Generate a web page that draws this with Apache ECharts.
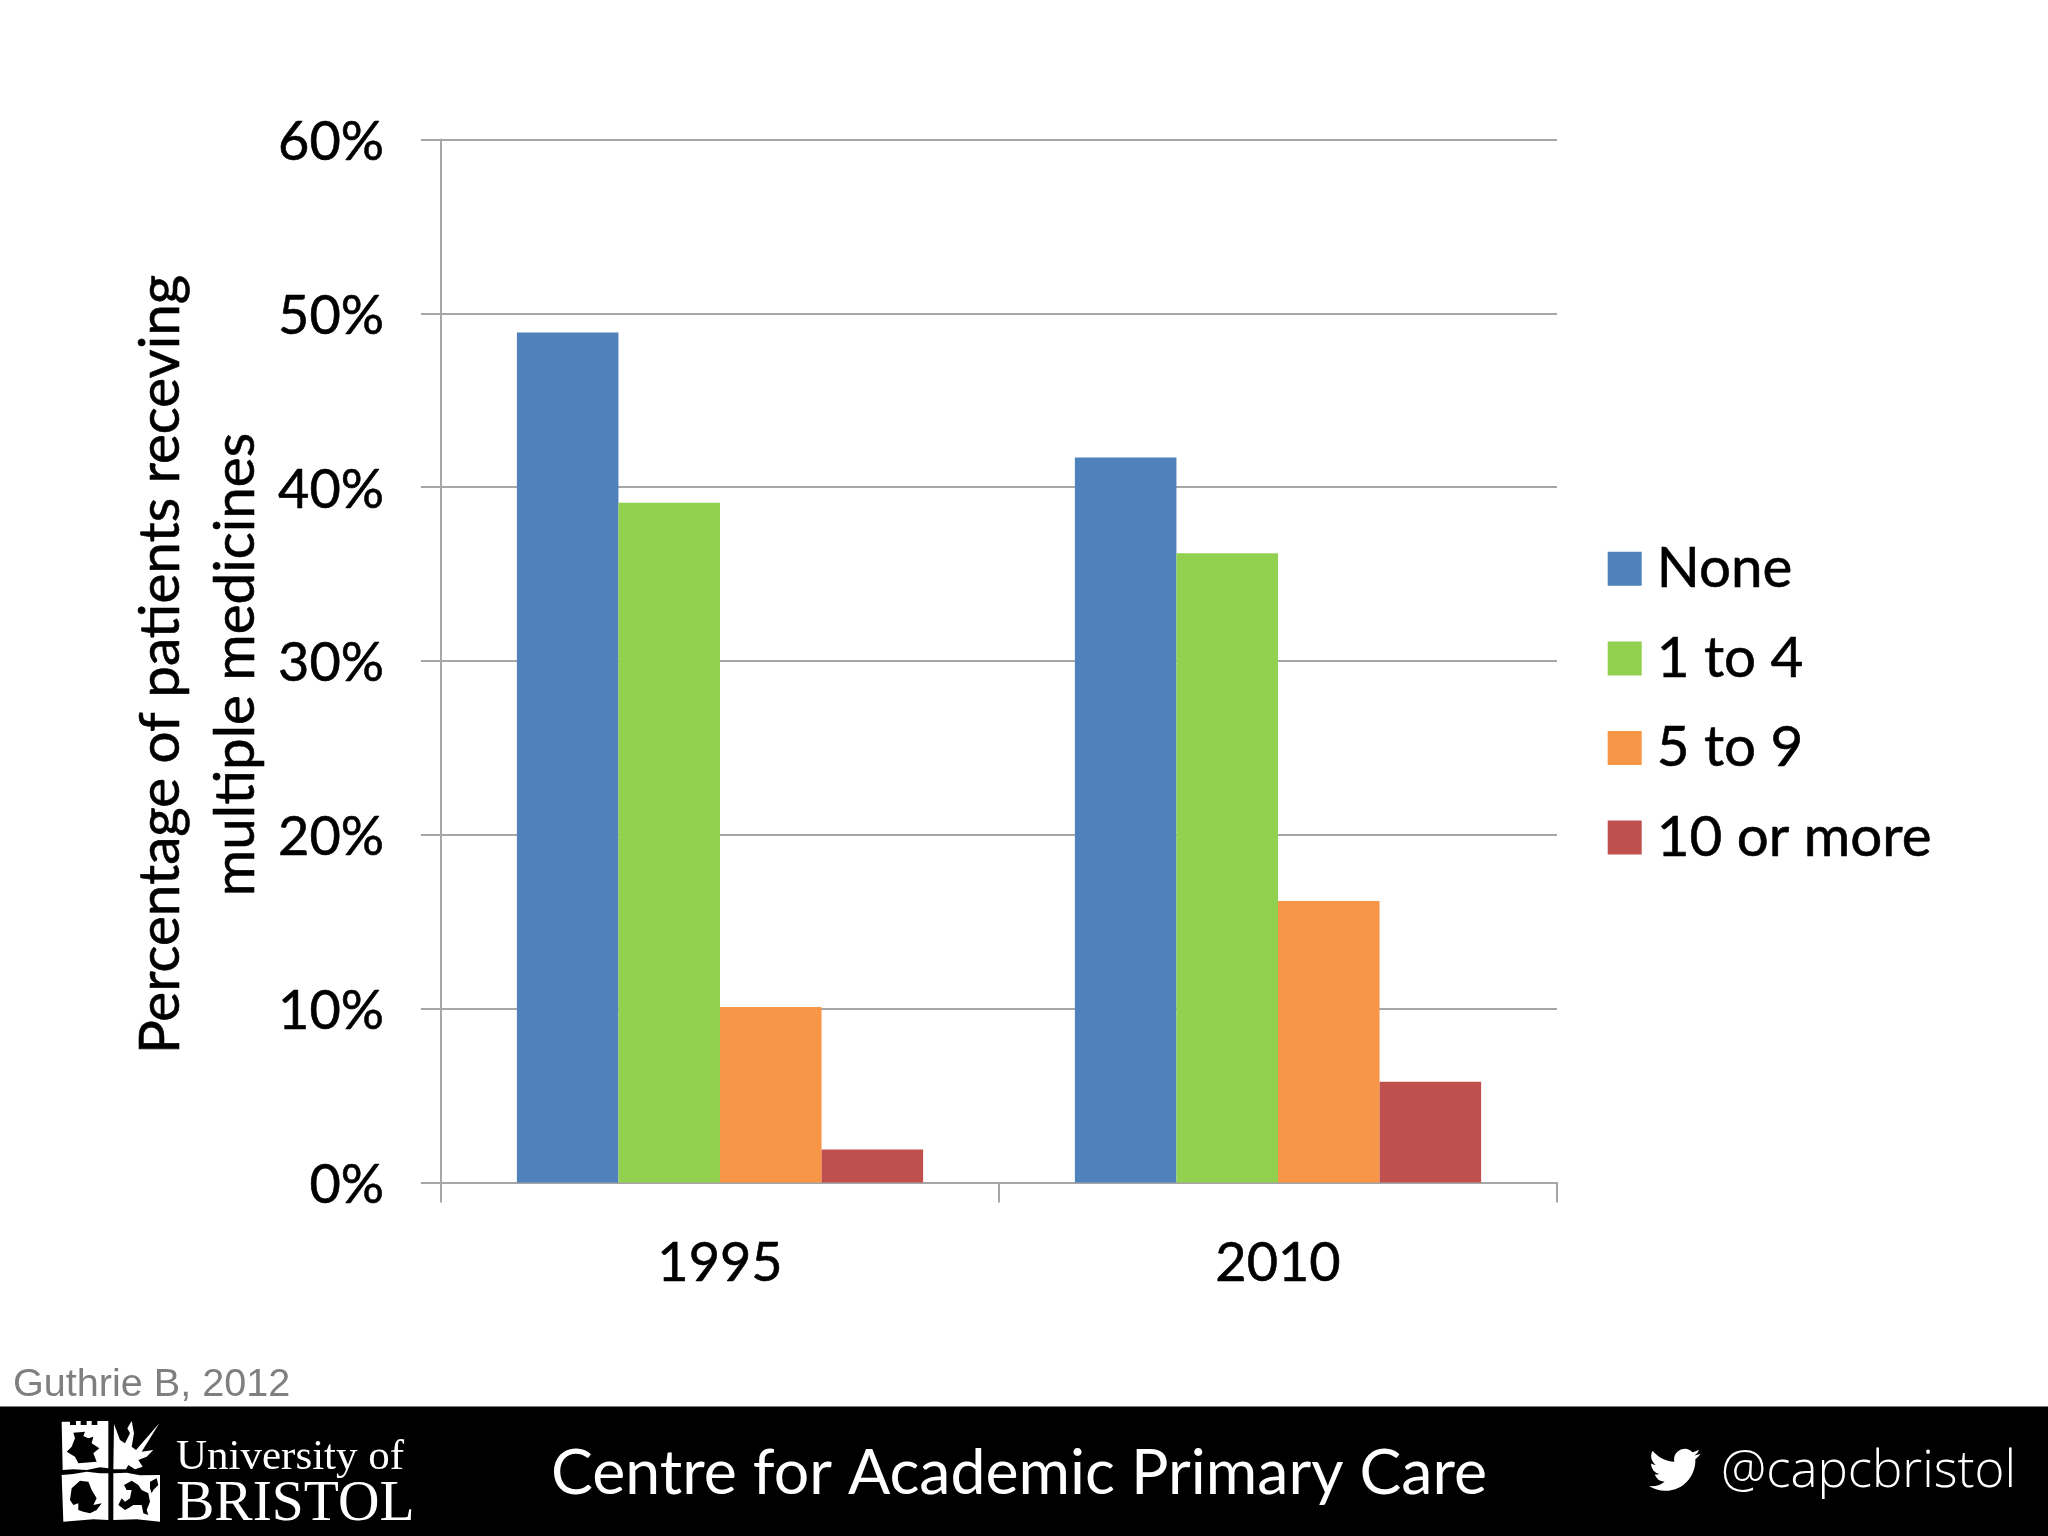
<!DOCTYPE html>
<html><head><meta charset="utf-8">
<style>html,body{margin:0;padding:0;background:#fff}#c{width:2048px;height:1536px}</style>
<script src="https://cdn.jsdelivr.net/npm/echarts@6/dist/echarts.min.js"></script>
</head><body><div id="c"></div>
<script>
const categories = ['1995', '2010'];
const none = [48.9, 41.7];
const oneToFour = [39.1, 36.2];
const fiveToNine = [10.1, 16.2];
const tenOrMore = [1.9, 5.8];
const seriesNames = ['None', '1 to 4', '5 to 9', '10 or more'];
const seriesColors = ['#4f81bd', '#92d050', '#f79646', '#c0504d'];
const yAxisTitle = 'Percentage of patients receving\nmultiple medicines';
const FONT = 'Lato';
const GREY = '#a6a6a6';
const bold = {textBorderColor:'#000',textBorderWidth:0.6};
const chart = echarts.init(document.getElementById('c'), null, {renderer:'canvas'});
const birdPath = 'M23.953 4.57a10 10 0 0 1-2.825.775 4.958 4.958 0 0 0 2.163-2.723c-.951.555-2.005.959-3.127 1.184a4.92 4.92 0 0 0-8.384 4.482C7.69 8.095 4.067 6.13 1.64 3.162a4.822 4.822 0 0 0-.666 2.475c0 1.71.87 3.213 2.188 4.096a4.904 4.904 0 0 1-2.228-.616v.06a4.923 4.923 0 0 0 3.946 4.827 4.996 4.996 0 0 1-2.212.085 4.936 4.936 0 0 0 4.604 3.417 9.867 9.867 0 0 1-6.102 2.105c-.39 0-.779-.023-1.17-.067a13.995 13.995 0 0 0 7.557 2.209c9.053 0 13.998-7.496 13.998-13.985 0-.21 0-.42-.015-.63A9.935 9.935 0 0 0 24 4.59z';
echarts.graphic.registerShape('bird', echarts.graphic.extendPath(birdPath, {}));
// decorative crest, in units of a 3x crop of the logo
const crest = (pts, fill) => ({type:'polygon', z:12, x:50, y:1410, scaleX:1/3, scaleY:1/3,
  shape:{points:pts}, style:{fill}});
const crestParts = [
  [[35,35],[60,35],[60,45],[78,45],[78,33],[92,33],[92,45],[110,45],[110,33],[125,33],[125,45],[142,45],[142,33],[175,33],[175,175],[150,172],[110,180],[70,178],[38,180]],
  [[192,42],[210,90],[225,100],[240,70],[232,55],[245,33],[252,70],[245,110],[258,120],[328,40],[275,125],[310,120],[290,140],[265,150],[278,170],[255,178],[235,165],[228,178],[190,178]],
  [[35,195],[70,192],[110,185],[150,190],[175,190],[175,330],[130,328],[40,335]],
  [[190,190],[230,188],[270,196],[330,195],[330,335],[260,328],[190,330]]
].map(p => crest(p,'#fff')).concat([
  [[70,68],[105,65],[100,78],[115,85],[130,80],[125,100],[148,115],[130,130],[140,155],[85,160],[75,140],[50,125],[65,110],[75,85]],
  [[60,270],[65,235],[90,212],[115,215],[125,240],[140,265],[130,285],[155,280],[140,300],[120,310],[100,305],[85,300],[85,280],[70,285]],
  [[222,225],[245,212],[265,225],[275,240],[295,250],[300,275],[290,300],[295,315],[280,310],[275,285],[250,285],[235,295],[225,300],[205,285],[215,265],[225,275],[240,265],[245,240],[230,240]],
  [[300,215],[320,205],[325,225],[310,240],[305,250],[300,235]]
].map(p => crest(p,'#000')));
chart.setOption({
  animation:false,
  backgroundColor:'#ffffff',
  grid:{left:441,top:139.5,width:1116,height:1043,containLabel:false},
  legend:{orient:'vertical',left:1607.7,top:540,padding:0,itemWidth:34,itemHeight:34,itemGap:32,icon:'rect',
    data:seriesNames,selectedMode:false,
    textStyle:{fontFamily:FONT,fontSize:56.5,lineHeight:56,color:'#000',padding:[0,0,0,10],...bold}},
  xAxis:{type:'category',data:categories,
    axisLine:{lineStyle:{color:GREY,width:2}},
    axisTick:{show:true,length:20,alignWithLabel:false,lineStyle:{color:GREY,width:2}},
    axisLabel:{fontFamily:FONT,fontSize:54,color:'#000',margin:54,...bold}},
  yAxis:{type:'value',min:0,max:60,interval:10,
    name:yAxisTitle,nameLocation:'middle',nameGap:168,nameRotate:90,nameMoveOverlap:false,
    nameTextStyle:{fontFamily:FONT,fontSize:56.5,color:'#000',lineHeight:75,padding:[0,7,0,0],...bold},
    axisLine:{show:true,lineStyle:{color:GREY,width:2}},
    axisTick:{show:true,length:20,lineStyle:{color:GREY,width:2}},
    splitLine:{lineStyle:{color:GREY,width:2}},
    axisLabel:{margin:57,formatter:'{a|{value}%}',
      rich:{a:{fontFamily:FONT,fontSize:54,color:'#000',padding:[6,0,0,0],...bold}}}},
  series:[none,oneToFour,fiveToNine,tenOrMore].map((d,i)=>({
    type:'bar',name:seriesNames[i],data:d,barGap:0,barCategoryGap:'27.2%',
    itemStyle:{color:seriesColors[i]}})),
  graphic:{elements:[
    {type:'rect',x:0,y:1406.5,shape:{width:2048,height:130},style:{fill:'#000'},z:10},
    {type:'text',x:13,y:1365,z:11,style:{text:'Guthrie B, 2012',fill:'#7f7f7f',font:'39.6px "Liberation Sans"'}},
    {type:'text',x:551,y:1442,z:11,style:{text:'Centre for Academic Primary Care',fill:'#fff',font:'62.6px '+FONT}},
    {type:'text',x:1721,y:1447,z:11,style:{text:'@capcbristol',fill:'#fff',font:'300 51px "Open Sans"'}},
    {type:'text',x:176,y:1436,z:11,style:{text:'University of',fill:'#fff',font:'43px "Liberation Serif"'}},
    {type:'text',x:176,y:1476,z:11,style:{text:'BRISTOL',fill:'#fff',font:'57.5px "Liberation Serif"'}},
    {type:'bird',z:11,x:1649,y:1444,scaleX:2.15,scaleY:2.15,style:{fill:'#fff'}},
    ...crestParts
  ]}
});
</script></body></html>
